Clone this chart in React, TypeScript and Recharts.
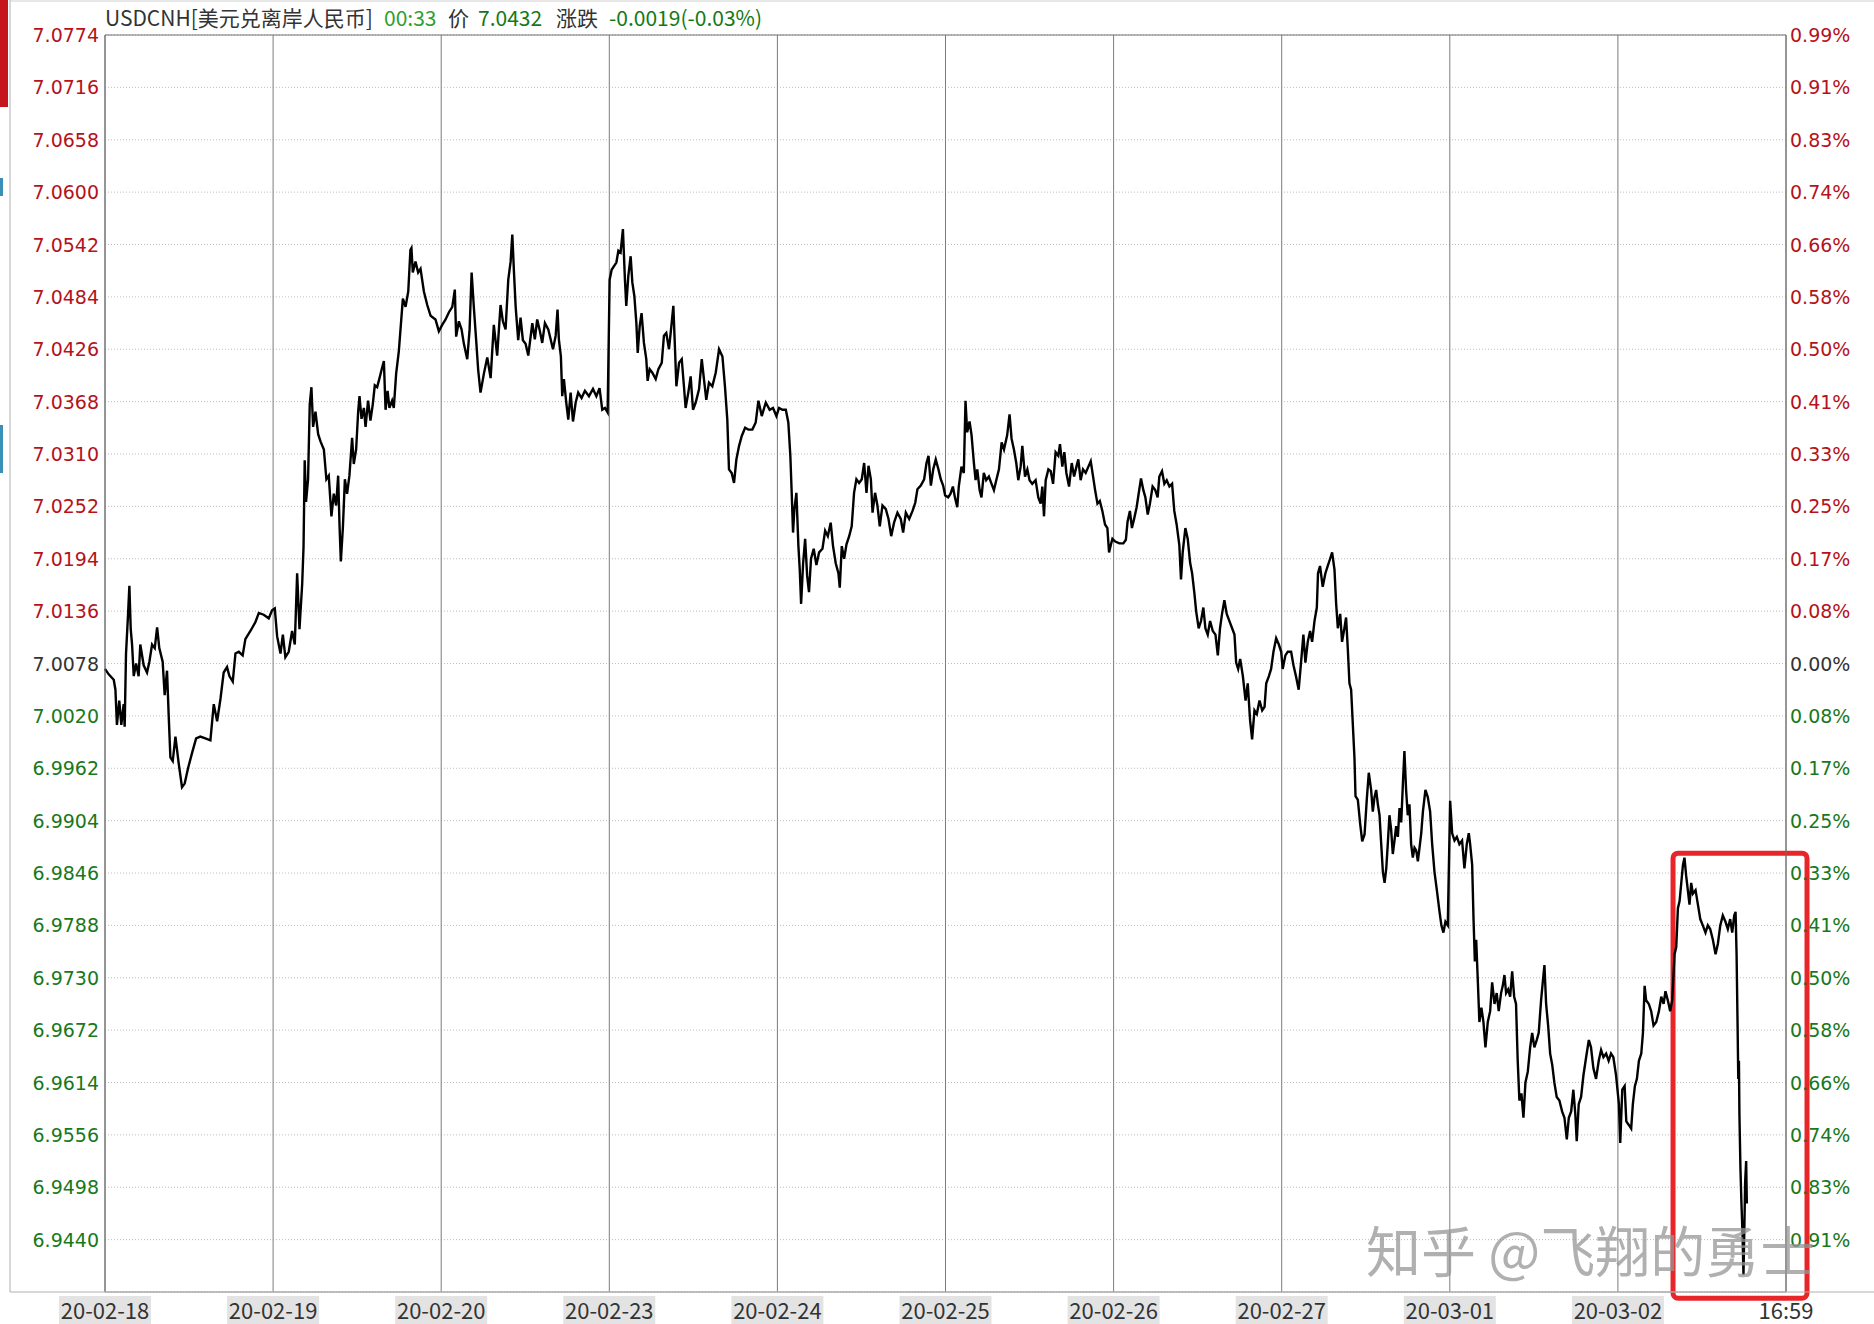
import React from "react"
import { LineChart, Line, XAxis, YAxis, CartesianGrid, ReferenceArea, ReferenceLine } from "recharts"

// previous close, the 0.00% line
const BASE = 7.0078

const priceTicks = [
  7.0774, 7.0716, 7.0658, 7.06, 7.0542, 7.0484, 7.0426, 7.0368, 7.031, 7.0252, 7.0194, 7.0136,
  7.0078, 7.002, 6.9962, 6.9904, 6.9846, 6.9788, 6.973, 6.9672, 6.9614, 6.9556, 6.9498, 6.944,
]
const pctLabels = [
  "0.99%", "0.91%", "0.83%", "0.74%", "0.66%", "0.58%", "0.50%", "0.41%", "0.33%", "0.25%", "0.17%", "0.08%",
  "0.00%", "0.08%", "0.17%", "0.25%", "0.33%", "0.41%", "0.50%", "0.58%", "0.66%", "0.74%", "0.83%", "0.91%",
]
const dateLabels = [
  "20-02-18", "20-02-19", "20-02-20", "20-02-23", "20-02-24", "20-02-25",
  "20-02-26", "20-02-27", "20-03-01", "20-03-02", "16:59",
]

// [fraction of the session, price] for each day
const day0: [number, number][] = [
  [0, 7.0072], [0.022, 7.0066], [0.052, 7.006], [0.062, 7.0049], [0.071, 7.001], [0.085, 7.0037],
  [0.097, 7.001], [0.111, 7.0033], [0.117, 7.0008], [0.125, 7.0089], [0.137, 7.0132], [0.145, 7.0164],
  [0.153, 7.0116], [0.161, 7.0099], [0.171, 7.0064], [0.185, 7.0078], [0.2, 7.0064], [0.21, 7.0099],
  [0.23, 7.0076], [0.25, 7.0068], [0.264, 7.008], [0.28, 7.0099], [0.296, 7.0095], [0.31, 7.0118],
  [0.323, 7.0095], [0.343, 7.008], [0.355, 7.0043], [0.369, 7.007], [0.379, 7.002], [0.389, 6.9974],
  [0.403, 6.997], [0.419, 6.9997], [0.438, 6.9968], [0.458, 6.9941], [0.474, 6.9945], [0.494, 6.9962],
  [0.518, 6.9979], [0.542, 6.9995], [0.567, 6.9997], [0.597, 6.9995], [0.627, 6.9993], [0.647, 7.0033],
  [0.667, 7.0014], [0.687, 7.0039], [0.706, 7.0068], [0.726, 7.0074], [0.74, 7.0064], [0.76, 7.0058],
  [0.776, 7.0089], [0.796, 7.0091], [0.819, 7.0087], [0.835, 7.0105], [0.865, 7.0114], [0.895, 7.0124],
  [0.915, 7.0134], [0.944, 7.0132], [0.974, 7.0128], [0.994, 7.0137],
]
const day1: [number, number][] = [
  [0.01, 7.0139], [0.024, 7.0108], [0.044, 7.0089], [0.058, 7.011], [0.073, 7.0085], [0.093, 7.0091],
  [0.113, 7.0114], [0.129, 7.0099], [0.143, 7.0178], [0.157, 7.0116], [0.173, 7.0166], [0.181, 7.0207],
  [0.188, 7.0303], [0.196, 7.0257], [0.208, 7.0282], [0.218, 7.0365], [0.228, 7.0384], [0.238, 7.034],
  [0.252, 7.0357], [0.268, 7.0332], [0.282, 7.0324], [0.302, 7.0315], [0.317, 7.0282], [0.331, 7.0286],
  [0.347, 7.0241], [0.361, 7.0266], [0.375, 7.0253], [0.387, 7.0286], [0.395, 7.0232], [0.403, 7.0191],
  [0.415, 7.0228], [0.427, 7.0282], [0.44, 7.0266], [0.454, 7.0286], [0.47, 7.0328], [0.48, 7.0299],
  [0.494, 7.0315], [0.506, 7.0357], [0.514, 7.0374], [0.526, 7.0349], [0.54, 7.0361], [0.55, 7.034],
  [0.565, 7.0369], [0.579, 7.0347], [0.593, 7.0365], [0.605, 7.0386], [0.619, 7.0384], [0.633, 7.0394],
  [0.645, 7.0403], [0.659, 7.0413], [0.669, 7.0359], [0.681, 7.038], [0.692, 7.0361], [0.708, 7.0369],
  [0.718, 7.0361], [0.732, 7.0399], [0.748, 7.0424], [0.76, 7.0453], [0.772, 7.0482], [0.788, 7.0473],
  [0.804, 7.049], [0.817, 7.0536], [0.823, 7.0538], [0.831, 7.0511], [0.847, 7.0523], [0.863, 7.0511],
  [0.877, 7.0515], [0.897, 7.049], [0.917, 7.0475], [0.937, 7.0463], [0.966, 7.0459], [0.986, 7.0446],
]
const day2: [number, number][] = [
  [0.006, 7.0453], [0.026, 7.0459], [0.046, 7.0467], [0.066, 7.0473], [0.081, 7.0492], [0.089, 7.044],
  [0.105, 7.0457], [0.121, 7.0448], [0.135, 7.0432], [0.155, 7.0415], [0.169, 7.0448], [0.181, 7.0511],
  [0.194, 7.0473], [0.208, 7.0436], [0.22, 7.0403], [0.234, 7.0378], [0.254, 7.0399], [0.274, 7.0417],
  [0.294, 7.0394], [0.313, 7.0453], [0.333, 7.0419], [0.353, 7.0475], [0.367, 7.0457], [0.383, 7.0448],
  [0.399, 7.0503], [0.413, 7.0523], [0.423, 7.0553], [0.433, 7.0511], [0.443, 7.0473], [0.458, 7.0436],
  [0.472, 7.0461], [0.486, 7.0436], [0.502, 7.0432], [0.518, 7.0419], [0.542, 7.0455], [0.557, 7.0437],
  [0.571, 7.0459], [0.585, 7.0448], [0.601, 7.0433], [0.617, 7.0455], [0.637, 7.0448], [0.651, 7.0437],
  [0.665, 7.0426], [0.681, 7.0441], [0.692, 7.047], [0.7, 7.0437], [0.712, 7.0418], [0.72, 7.0374],
  [0.73, 7.0393], [0.744, 7.0367], [0.756, 7.0348], [0.77, 7.0378], [0.784, 7.0346], [0.8, 7.0367],
  [0.815, 7.0378], [0.835, 7.0372], [0.855, 7.038], [0.879, 7.0374], [0.903, 7.0382], [0.923, 7.0374],
  [0.942, 7.0383], [0.958, 7.0359], [0.974, 7.0361], [0.99, 7.0356],
]
const day3: [number, number][] = [
  [0.002, 7.0503], [0.014, 7.0514], [0.028, 7.0518], [0.042, 7.0522], [0.054, 7.0535], [0.067, 7.0533],
  [0.081, 7.0559], [0.093, 7.0503], [0.101, 7.0474], [0.113, 7.0507], [0.127, 7.0529], [0.137, 7.05],
  [0.149, 7.0485], [0.161, 7.0455], [0.169, 7.0422], [0.181, 7.0452], [0.192, 7.0466], [0.206, 7.0433],
  [0.22, 7.0415], [0.228, 7.0391], [0.24, 7.0404], [0.256, 7.04], [0.276, 7.0393], [0.292, 7.0404],
  [0.312, 7.0411], [0.325, 7.0441], [0.339, 7.0444], [0.355, 7.0426], [0.371, 7.0455], [0.381, 7.0474],
  [0.391, 7.0426], [0.399, 7.0385], [0.415, 7.0411], [0.431, 7.0415], [0.444, 7.0385], [0.454, 7.0361],
  [0.47, 7.0378], [0.484, 7.0396], [0.498, 7.0359], [0.514, 7.0367], [0.534, 7.0382], [0.55, 7.0415],
  [0.563, 7.0393], [0.577, 7.037], [0.593, 7.0389], [0.613, 7.0385], [0.633, 7.04], [0.653, 7.0426],
  [0.673, 7.0418], [0.688, 7.0385], [0.702, 7.0348], [0.712, 7.0293], [0.728, 7.0289], [0.742, 7.0278],
  [0.756, 7.0304], [0.772, 7.0319], [0.788, 7.033], [0.808, 7.0339], [0.827, 7.0337], [0.851, 7.0337],
  [0.871, 7.0345], [0.887, 7.0369], [0.907, 7.0352], [0.931, 7.0367], [0.954, 7.0359], [0.974, 7.0361],
  [0.994, 7.0352],
]
const day4: [number, number][] = [
  [0.01, 7.0361], [0.03, 7.0359], [0.05, 7.0359], [0.065, 7.0345], [0.077, 7.0308], [0.085, 7.0267],
  [0.093, 7.0223], [0.101, 7.0249], [0.113, 7.0267], [0.125, 7.0208], [0.133, 7.0182], [0.141, 7.0144],
  [0.153, 7.0189], [0.165, 7.0216], [0.177, 7.0175], [0.188, 7.0157], [0.2, 7.0194], [0.216, 7.0205],
  [0.232, 7.0187], [0.248, 7.0201], [0.268, 7.0205], [0.284, 7.0225], [0.3, 7.0219], [0.317, 7.0234],
  [0.331, 7.0208], [0.347, 7.0189], [0.363, 7.0178], [0.371, 7.0162], [0.383, 7.0208], [0.397, 7.0194],
  [0.411, 7.021], [0.427, 7.0219], [0.442, 7.023], [0.456, 7.0267], [0.47, 7.0282], [0.486, 7.0278],
  [0.502, 7.0282], [0.516, 7.03], [0.53, 7.0267], [0.542, 7.0297], [0.556, 7.0282], [0.566, 7.0245],
  [0.581, 7.0267], [0.595, 7.0253], [0.609, 7.023], [0.625, 7.0253], [0.645, 7.0249], [0.661, 7.0238],
  [0.677, 7.0219], [0.694, 7.0234], [0.714, 7.0245], [0.734, 7.0238], [0.748, 7.0223], [0.764, 7.0245],
  [0.784, 7.0238], [0.804, 7.0247], [0.82, 7.0256], [0.833, 7.0271], [0.853, 7.0275], [0.873, 7.0282],
  [0.887, 7.03], [0.899, 7.0308], [0.913, 7.0275], [0.927, 7.0293], [0.942, 7.0304], [0.958, 7.0293],
  [0.972, 7.0282], [0.986, 7.0275], [0.998, 7.0264],
]
const day5: [number, number][] = [
  [0.016, 7.0262], [0.03, 7.0266], [0.044, 7.0274], [0.056, 7.0262], [0.07, 7.0251], [0.079, 7.0274],
  [0.095, 7.0296], [0.109, 7.0289], [0.119, 7.0369], [0.129, 7.0334], [0.143, 7.0346], [0.155, 7.0331],
  [0.169, 7.03], [0.179, 7.0281], [0.189, 7.0293], [0.203, 7.027], [0.214, 7.0262], [0.228, 7.0289],
  [0.242, 7.0281], [0.258, 7.0285], [0.274, 7.0277], [0.288, 7.027], [0.302, 7.0281], [0.318, 7.0293],
  [0.334, 7.0323], [0.348, 7.0315], [0.367, 7.0331], [0.381, 7.0354], [0.393, 7.0327], [0.407, 7.0315],
  [0.421, 7.03], [0.433, 7.0281], [0.447, 7.0296], [0.457, 7.0319], [0.473, 7.0285], [0.487, 7.0293],
  [0.5, 7.0281], [0.516, 7.0277], [0.536, 7.0281], [0.552, 7.0262], [0.566, 7.0255], [0.576, 7.0274],
  [0.586, 7.0241], [0.596, 7.0281], [0.612, 7.0293], [0.626, 7.0291], [0.64, 7.0277], [0.655, 7.0312],
  [0.671, 7.0308], [0.681, 7.0321], [0.695, 7.0296], [0.707, 7.0312], [0.719, 7.0289], [0.735, 7.0274],
  [0.751, 7.03], [0.765, 7.0285], [0.779, 7.0296], [0.79, 7.0304], [0.804, 7.0281], [0.818, 7.0293],
  [0.834, 7.0289], [0.85, 7.0296], [0.864, 7.0302], [0.878, 7.0285], [0.89, 7.027], [0.904, 7.0255],
  [0.918, 7.0258], [0.933, 7.0247], [0.949, 7.0232], [0.963, 7.0228], [0.973, 7.0201], [0.983, 7.0209],
  [0.993, 7.0216],
]
const day6: [number, number][] = [
  [0.01, 7.0213], [0.034, 7.0211], [0.058, 7.0211], [0.073, 7.0215], [0.083, 7.0235], [0.097, 7.0247],
  [0.109, 7.0228], [0.123, 7.0239], [0.137, 7.0251], [0.149, 7.0266], [0.163, 7.0283], [0.177, 7.027],
  [0.189, 7.0262], [0.203, 7.0243], [0.216, 7.0255], [0.232, 7.0274], [0.248, 7.027], [0.262, 7.0262],
  [0.272, 7.0285], [0.288, 7.0291], [0.302, 7.0277], [0.316, 7.0281], [0.332, 7.0274], [0.348, 7.0277],
  [0.361, 7.0247], [0.375, 7.0232], [0.391, 7.0209], [0.401, 7.0171], [0.411, 7.0201], [0.427, 7.0228],
  [0.441, 7.0216], [0.455, 7.019], [0.467, 7.0178], [0.481, 7.0155], [0.491, 7.0136], [0.506, 7.0117],
  [0.52, 7.0125], [0.534, 7.014], [0.546, 7.0117], [0.56, 7.011], [0.574, 7.0125], [0.59, 7.0114],
  [0.606, 7.011], [0.62, 7.0087], [0.633, 7.0117], [0.645, 7.0133], [0.659, 7.0148], [0.673, 7.0133],
  [0.689, 7.0125], [0.705, 7.0117], [0.719, 7.011], [0.729, 7.0079], [0.741, 7.0072], [0.753, 7.0083],
  [0.769, 7.0064], [0.785, 7.0037], [0.798, 7.0056], [0.812, 7.0015], [0.824, 6.9994], [0.838, 7.0026],
  [0.852, 7.0022], [0.868, 7.0037], [0.884, 7.0026], [0.898, 7.003], [0.908, 7.0056], [0.924, 7.0064],
  [0.937, 7.0072], [0.951, 7.0091], [0.967, 7.0106], [0.983, 7.0099], [0.997, 7.0091],
]
const day7: [number, number][] = [
  [0.006, 7.0072], [0.022, 7.0087], [0.036, 7.0091], [0.056, 7.0091], [0.07, 7.0076], [0.085, 7.0064],
  [0.101, 7.0049], [0.115, 7.0079], [0.129, 7.011], [0.141, 7.0079], [0.155, 7.0102], [0.169, 7.0114],
  [0.181, 7.0102], [0.195, 7.0125], [0.209, 7.014], [0.216, 7.0178], [0.228, 7.0186], [0.244, 7.0163],
  [0.26, 7.0178], [0.274, 7.0186], [0.288, 7.0194], [0.3, 7.0201], [0.314, 7.0182], [0.324, 7.0144],
  [0.334, 7.0117], [0.348, 7.0133], [0.359, 7.0102], [0.373, 7.0117], [0.383, 7.0129], [0.393, 7.0095],
  [0.403, 7.0056], [0.413, 7.0049], [0.423, 7.0011], [0.433, 6.9973], [0.439, 6.9931], [0.453, 6.9927],
  [0.467, 6.99], [0.479, 6.9881], [0.493, 6.9889], [0.506, 6.9927], [0.518, 6.9957], [0.532, 6.9938],
  [0.542, 6.9914], [0.552, 6.993], [0.562, 6.9938], [0.572, 6.9922], [0.582, 6.991], [0.592, 6.9878],
  [0.602, 6.9847], [0.612, 6.9835], [0.622, 6.9851], [0.631, 6.9878], [0.641, 6.991], [0.651, 6.9894],
  [0.661, 6.9867], [0.671, 6.9882], [0.681, 6.9898], [0.691, 6.9886], [0.701, 6.9918], [0.711, 6.9902],
  [0.721, 6.9945], [0.73, 6.9981], [0.74, 6.9938], [0.75, 6.991], [0.76, 6.9922], [0.77, 6.9878],
  [0.78, 6.9863], [0.79, 6.9874], [0.8, 6.9871], [0.81, 6.9859], [0.82, 6.9874], [0.83, 6.989],
  [0.84, 6.9914], [0.855, 6.9938], [0.869, 6.993], [0.883, 6.9914], [0.895, 6.9878], [0.909, 6.9847],
  [0.923, 6.9827], [0.939, 6.9803], [0.95, 6.9788], [0.962, 6.978], [0.974, 6.9792], [0.988, 6.9788],
]
const day8: [number, number][] = [
  [0.002, 6.9926], [0.014, 6.989], [0.028, 6.9882], [0.042, 6.9886], [0.057, 6.9878], [0.073, 6.9882],
  [0.087, 6.9851], [0.101, 6.9878], [0.113, 6.989], [0.121, 6.9878], [0.133, 6.9855], [0.141, 6.9796],
  [0.149, 6.9748], [0.157, 6.9772], [0.167, 6.9725], [0.176, 6.9681], [0.188, 6.9697], [0.2, 6.9681],
  [0.212, 6.9653], [0.226, 6.9681], [0.24, 6.9693], [0.252, 6.9725], [0.266, 6.9701], [0.279, 6.9713],
  [0.291, 6.9693], [0.305, 6.9713], [0.315, 6.9721], [0.325, 6.9733], [0.335, 6.9713], [0.347, 6.9717],
  [0.359, 6.9709], [0.371, 6.9737], [0.383, 6.9709], [0.394, 6.9701], [0.404, 6.9638], [0.414, 6.9594],
  [0.426, 6.9602], [0.438, 6.9575], [0.45, 6.9614], [0.464, 6.9626], [0.478, 6.9653], [0.49, 6.9669],
  [0.503, 6.9653], [0.517, 6.9661], [0.529, 6.9669], [0.543, 6.9705], [0.553, 6.9725], [0.563, 6.9744],
  [0.573, 6.9701], [0.585, 6.9677], [0.597, 6.9646], [0.609, 6.9634], [0.622, 6.9614], [0.636, 6.9598],
  [0.652, 6.9594], [0.668, 6.9582], [0.682, 6.9575], [0.696, 6.9551], [0.708, 6.9575], [0.722, 6.9582],
  [0.735, 6.9606], [0.747, 6.9578], [0.755, 6.9549], [0.767, 6.959], [0.781, 6.9598], [0.795, 6.9622],
  [0.811, 6.9642], [0.827, 6.9661], [0.84, 6.9653], [0.854, 6.963], [0.87, 6.9618], [0.886, 6.9638],
  [0.9, 6.965], [0.914, 6.9642], [0.93, 6.9646], [0.945, 6.9638], [0.959, 6.9646], [0.973, 6.9642],
  [0.989, 6.9622],
]
const day9: [number, number][] = [
  [0.006, 6.959], [0.014, 6.9547], [0.026, 6.9606], [0.04, 6.961], [0.05, 6.9571], [0.065, 6.9567],
  [0.079, 6.9563], [0.089, 6.959], [0.101, 6.961], [0.113, 6.9618], [0.125, 6.9638], [0.139, 6.9646],
  [0.149, 6.9669], [0.159, 6.9721], [0.168, 6.9705], [0.184, 6.9701], [0.198, 6.9693], [0.212, 6.9677],
  [0.228, 6.9681], [0.244, 6.9693], [0.258, 6.9709], [0.272, 6.9701], [0.283, 6.9715], [0.297, 6.9705],
  [0.311, 6.9693], [0.323, 6.9705], [0.337, 6.9756], [0.347, 6.9764], [0.357, 6.9807], [0.367, 6.9815],
  [0.377, 6.9835], [0.387, 6.9855], [0.396, 6.9863], [0.406, 6.9843], [0.416, 6.9827], [0.426, 6.9811],
  [0.436, 6.9835], [0.446, 6.9823], [0.462, 6.9827], [0.476, 6.9811], [0.49, 6.9795], [0.505, 6.9788],
  [0.521, 6.978], [0.535, 6.9788], [0.549, 6.9784], [0.565, 6.9772], [0.581, 6.9756], [0.595, 6.9768],
  [0.609, 6.9788], [0.624, 6.9799], [0.64, 6.9792], [0.654, 6.9784], [0.668, 6.9795], [0.68, 6.978],
  [0.692, 6.9799], [0.7, 6.9803], [0.706, 6.9756], [0.712, 6.9677], [0.716, 6.9618], [0.72, 6.9638],
  [0.723, 6.9578], [0.729, 6.9519], [0.735, 6.948], [0.741, 6.9449], [0.747, 6.9401], [0.753, 6.946],
  [0.757, 6.9504], [0.763, 6.9527], [0.767, 6.948],
]

const days = [day0, day1, day2, day3, day4, day5, day6, day7, day8, day9]
const data = days.flatMap((d, i) => d.map(([t, price]) => ({ x: i + t, price })))

const RED = "#b5121b"
const GREEN = "#18781c"
const AXIS_FONT = "'DejaVu Sans', Verdana, sans-serif"
const CJK_FONT = "'Noto Sans CJK SC', 'Noto Sans', sans-serif"

function priceColor(v: number) {
  if (Math.abs(v - BASE) < 1e-6) return "#333"
  return v > BASE ? RED : GREEN
}

function LeftTick(props: any) {
  const { x, y, payload } = props
  const v = payload.value
  return (
    <text x={x} y={y} textAnchor="end" dominantBaseline="central" fontFamily={AXIS_FONT} fontSize={19} fill={priceColor(v)}>
      {v.toFixed(4)}
    </text>
  )
}

function RightTick(props: any) {
  const { x, y, payload, index } = props
  return (
    <text x={x} y={y} textAnchor="start" dominantBaseline="central" fontFamily={AXIS_FONT} fontSize={19} fill={priceColor(payload.value)}>
      {pctLabels[index]}
    </text>
  )
}

function DateTick(props: any) {
  const { x, y, index } = props
  const label = dateLabels[index]
  const last = index === dateLabels.length - 1
  return (
    <g>
      {!last && <rect x={x - 46} y={y + 4} width={92} height={28} fill="#e3e3e3" />}
      <text x={x} y={y + 17} textAnchor="middle" dominantBaseline="central" fontFamily={CJK_FONT} fontSize={22} fill="#333">
        {label}
      </text>
    </g>
  )
}

function BoxShape(props: any) {
  const { x, y, width, height } = props
  return <rect x={x} y={y} width={width} height={height} rx={5} fill="none" stroke="#e8262a" strokeWidth={5} />
}

export default function App() {
  const head: React.CSSProperties = { position: "absolute", top: 4, fontFamily: CJK_FONT, fontSize: 21, lineHeight: "26px", whiteSpace: "nowrap" }
  return (
    <div style={{ position: "absolute", left: 0, top: 0, width: 1874, height: 1324, background: "#fff", overflow: "hidden" }}>
      <LineChart width={1874} height={1324} data={data} margin={{ top: 35, right: 4, bottom: 0, left: 5 }}>
        <CartesianGrid yAxisId="left" horizontal vertical={false} stroke="#bdbdbd" strokeDasharray="1 2" />
        <CartesianGrid yAxisId="left" horizontal={false} vertical stroke="#7c7c7c" />
        <XAxis
          type="number"
          dataKey="x"
          domain={[0, 10]}
          ticks={[0, 1, 2, 3, 4, 5, 6, 7, 8, 9, 10]}
          interval={0}
          height={32}
          tickSize={0}
          tickMargin={0}
          tickLine={false}
          axisLine={{ stroke: "#9a9a9a" }}
          tick={<DateTick />}
        />
        <YAxis
          yAxisId="left"
          domain={[6.9382, 7.0774]}
          ticks={priceTicks}
          interval={0}
          allowDataOverflow
          width={100}
          tickSize={0}
          tickMargin={6}
          tickLine={false}
          axisLine={{ stroke: "#6e6e6e" }}
          tick={<LeftTick />}
        />
        <YAxis
          yAxisId="right"
          orientation="right"
          domain={[6.9382, 7.0774]}
          ticks={priceTicks}
          interval={0}
          allowDataOverflow
          width={84}
          tickSize={0}
          tickMargin={4}
          tickLine={false}
          axisLine={{ stroke: "#6e6e6e" }}
          tick={<RightTick />}
        />
        <ReferenceLine yAxisId="left" y={7.0774} stroke="#6e6e6e" />
        <Line
          yAxisId="left"
          type="linear"
          dataKey="price"
          stroke="#000"
          strokeWidth={2.4}
          dot={false}
          isAnimationActive={false}
        />
        <ReferenceArea
          yAxisId="left"
          x1={9.328}
          x2={10.125}
          y1={6.9375}
          y2={6.9868}
          ifOverflow="visible"
          shape={<BoxShape />}
        />
      </LineChart>

      {/* window frame bits at the left edge */}
      <svg style={{ position: "absolute", left: 0, top: 0 }} width={1874} height={1324}>
        <line x1={10} y1={0} x2={10} y2={1292} stroke="#b0b0b0" />
        <line x1={10} y1={1292} x2={1874} y2={1292} stroke="#b0b0b0" />
        <line x1={10} y1={1} x2={1874} y2={1} stroke="#d0d0d0" />
        <rect x={0} y={0} width={8} height={107} fill="#c4161c" />
        <rect x={0} y={178} width={3} height={18} fill="#3a8fb7" />
        <rect x={0} y={425} width={3} height={48} fill="#3a8fb7" />
      </svg>

      <span style={{ ...head, left: 105, color: "#333" }}>USDCNH[美元兑离岸人民币]</span>
      <span style={{ ...head, left: 384, color: "#2ea02e" }}>00:33</span>
      <span style={{ ...head, left: 448, color: "#333" }}>价</span>
      <span style={{ ...head, left: 478, color: "#137a13" }}>7.0432</span>
      <span style={{ ...head, left: 556, color: "#333" }}>涨跌</span>
      <span style={{ ...head, left: 609, color: "#137a13" }}>-0.0019(-0.03%)</span>

      <div
        style={{
          position: "absolute",
          left: 1366,
          top: 1216,
          fontFamily: CJK_FONT,
          fontSize: 55,
          lineHeight: "64px",
          color: "rgba(150,150,150,0.75)",
          whiteSpace: "pre",
          pointerEvents: "none",
        }}
      >
        知乎 @飞翔的勇士
      </div>
    </div>
  )
}
